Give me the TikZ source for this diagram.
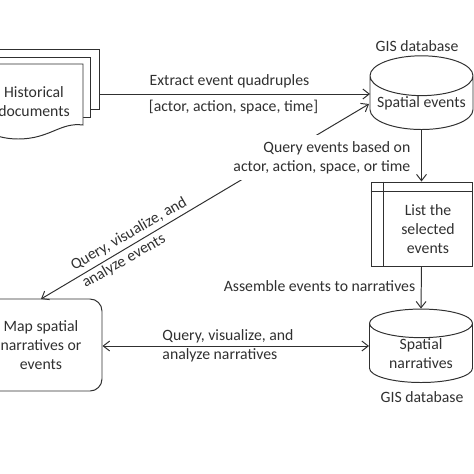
\documentclass[tikz,border=0pt]{standalone}
\usepackage{fontspec}
\setmainfont{Carlito}
\usetikzlibrary{arrows.meta,shapes.geometric}
\definecolor{inkgray}{HTML}{303030}
\tikzset{
  lbl/.style={inner sep=0pt,align=center},
  dbase/.style={cylinder,shape border rotate=90,draw,aspect=.45,minimum width=103*.025cm,minimum height=71*.025cm,anchor=south,inner sep=0pt,align=center},
}
\begin{document}
\begin{tikzpicture}[x=.025cm,y=-.025cm,>={Straight Barb[length=4.5pt,width=7pt]},line width=.7pt,color=inkgray,font=\fontsize{11.2}{13.5}\selectfont]
  \useasboundingbox (0,0) rectangle (474,474);
  \clip (0,0) rectangle (474,474);
  % stacked pages
  \draw[fill=white] (-10,49)--(99,49)--(99,109)--(-10,109);
  \draw[fill=white] (-10,57)--(90,57)--(90,117)--(-10,117);
  \draw[fill=white] (-10,64)--(83,64)--(83,125) .. controls (60,122) and (50,139) .. (18,139) .. controls (8,139) and (0,137) .. (-10,134);
  \coordinate (hist) at (99,94);
  \node[lbl] (histtext) at (34,101.5) {Historical\\documents};
  % databases
  \node[dbase] (evdb) at (421.5,130) {Spatial events};
  \node[dbase] (nardb) at (421,383) {Spatial\\narratives};
  \node[lbl] (evgis) at (417,46) {GIS database};
  \node[lbl] (nargis) at (422,397) {GIS database};
  \coordinate (evin) at (370,94);
  \coordinate (evq) at (369,104);
  \coordinate (narin) at (369,346);
  % list of events
  \node[draw,minimum width=101*.025cm,minimum height=84*.025cm,inner sep=0pt] (listbox) at (421.5,224) {};
  \draw (listbox.north west)++(0,10)--++(101,0);
  \draw (listbox.north west)++(13,0)--++(0,84);
  \node[lbl] (listtext) at (428,229.5) {List the\\selected\\events};
  % map box
  \node[draw,rounded corners=12*.025cm,minimum width=122*.025cm,minimum height=92*.025cm,inner sep=0pt,align=center] (mapbox) at (41,345) {Map spatial\\narratives or\\events};
  \coordinate (mapout) at (41,299);
  % connectors
  \draw[->] (hist)--(evin);
  \draw[<->] (mapout)--(evq);
  \draw[->] (evdb.south)--(listbox.north);
  \draw[->] (listbox.south)--(nardb.north);
  \draw[<->] (mapbox.east|-narin)--(narin);
  % labels
  \node[lbl] (extract) at (229.5,81) {Extract event quadruples};
  \node[lbl] (tuple) at (233.5,107) {[actor, action, space, time]};
  \node[lbl,align=right,anchor=east,fill=white,minimum height=45*.025cm,inner xsep=3pt] (query) at (415,157.5) {Query events based on\\actor, action, space, or time};
  \node[lbl,rotate=30] (mapq) at (129,234) {Query, visualize, and};
  \node[lbl,rotate=30] (mapr) at (124,261) {analyze events};
  \node[lbl] (assemble) at (319.5,286) {Assemble events to narratives};
  \node[lbl,align=left,anchor=west] (narq) at (162,346) {Query, visualize, and\\analyze narratives};
\end{tikzpicture}
\end{document}
